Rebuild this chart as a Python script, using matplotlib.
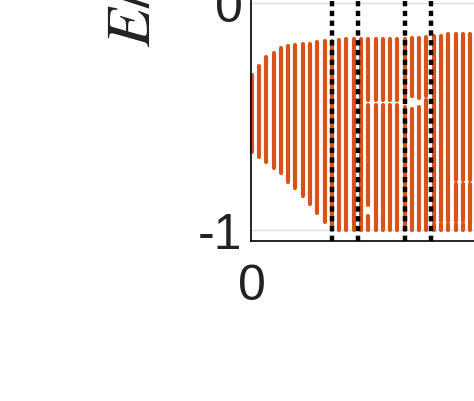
import numpy as np
import matplotlib.pyplot as plt

plt.rcParams['font.family'] = ['Liberation Sans', 'DejaVu Sans']
plt.rcParams['mathtext.fontset'] = 'stix'

# column index, top, bottom of each band of states
seg_k = [0, 1, 2, 3, 4, 5, 6, 7, 8, 9, 10, 11, 12, 13, 14, 15,
         16, 16, 16, 17, 17, 17, 18, 18, 19, 19, 20, 20, 21, 21, 22, 22, 23, 23,
         24, 24, 25, 25, 26, 26, 27, 27, 28, 28, 28, 29, 29, 29, 30, 30]
seg_top = [-0.32, -0.28, -0.24, -0.22, -0.20, -0.19, -0.185, -0.18, -0.18, -0.175, -0.17, -0.17, -0.165, -0.16, -0.16, -0.16,
           -0.16, -0.45, -0.94, -0.16, -0.45, -0.935, -0.16, -0.45, -0.16, -0.45, -0.16, -0.45, -0.16, -0.46, -0.155, -0.47, -0.155, -0.46,
           -0.15, -0.43, -0.145, -0.975, -0.145, -0.975, -0.14, -0.975, -0.14, -0.80, -0.975, -0.14, -0.80, -0.975, -0.14, -0.80]
seg_bot = [-0.66, -0.68, -0.70, -0.73, -0.75, -0.79, -0.815, -0.85, -0.885, -0.925, -0.965, -1.0, -1.0, -1.0, -1.0, -1.0,
           -0.43, -0.89, -1.0, -0.43, -0.925, -1.0, -0.43, -1.0, -0.43, -1.0, -0.43, -1.0, -0.42, -1.0, -0.41, -1.0, -0.42, -1.0,
           -0.41, -1.0, -0.96, -1.0, -0.96, -1.0, -0.96, -1.0, -0.78, -0.96, -1.0, -0.78, -0.96, -1.0, -0.78, -1.0]
black_x = [11.0, 14.6, 21.0, 24.6]

fig = plt.figure(figsize=(4.74, 4.02), dpi=100)
ax = fig.add_axes([251 / 474, 160 / 402, 292 / 474, 261 / 402])
ax.vlines(seg_k, seg_bot, seg_top, color='#D95319', linewidth=3.0, capstyle='round', clip_on=False)
for xb in black_x:
    ax.axvline(xb, color='black', linewidth=3.2, linestyle=(0, (1.2, 1.0)))
ax.set_xlim(-0.1, 40)
ax.set_ylim(-1.05, 0.1)
ax.set_yticks([0, -1])
ax.set_yticklabels(['0', '-1'])
ax.set_xticks([0])
ax.grid(True, axis='y', color='#dddddd', linewidth=1)
ax.tick_params(labelsize=36, length=0, colors='#222222')
ax.tick_params(axis='y', pad=6)
ax.tick_params(axis='x', pad=16)
for s in ax.spines.values():
    s.set_linewidth(1.2)
fig.text(132 / 474, 1 - 8 / 402, '$E/t$', rotation=90, fontsize=46,
         ha='center', va='center', color='#222222')
fig.savefig('out.png', dpi=100)
